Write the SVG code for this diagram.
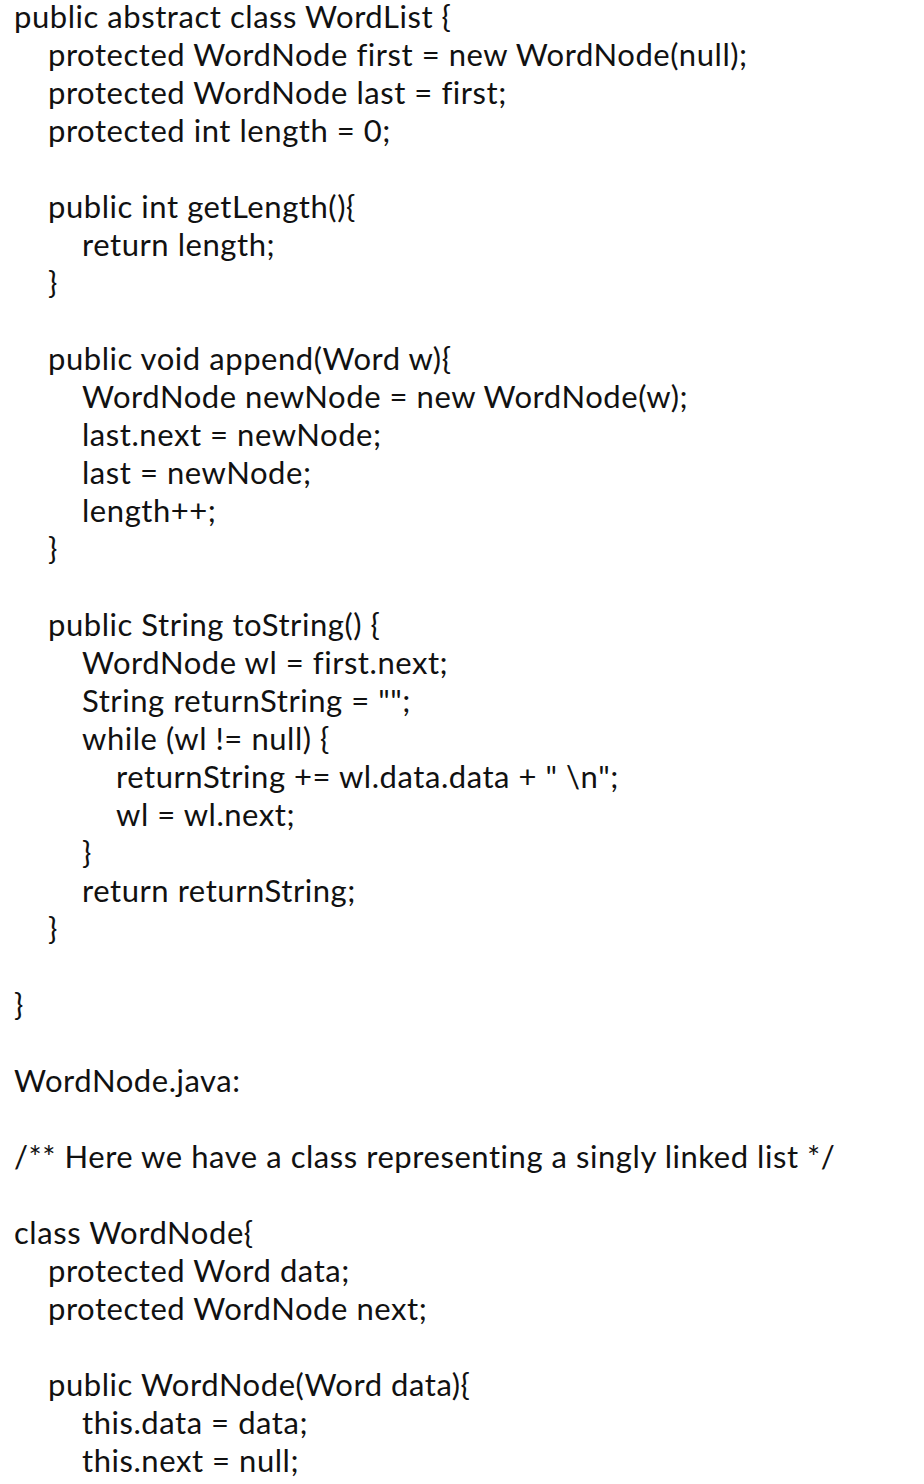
<svg xmlns="http://www.w3.org/2000/svg" width="924" height="1484" viewBox="0 0 924 1484">
<style>text{font-family:"Lato","Open Sans","Liberation Sans",sans-serif;font-size:31px;letter-spacing:0.55px;font-variant-ligatures:none;fill:#111}</style>
<rect width="924" height="1484" fill="#fff"/>
<g id="code">
<text x="14" y="28">public abstract class WordList {</text>
<text x="48" y="66">protected WordNode first = new WordNode(null);</text>
<text x="48" y="104">protected WordNode last = first;</text>
<text x="48" y="142">protected int length = 0;</text>
<text x="48" y="218">public int getLength(){</text>
<text x="82" y="256">return length;</text>
<text x="48" y="294">}</text>
<text x="48" y="370">public void append(Word w){</text>
<text x="82" y="408">WordNode newNode = new WordNode(w);</text>
<text x="82" y="446">last.next = newNode;</text>
<text x="82" y="484">last = newNode;</text>
<text x="82" y="522">length++;</text>
<text x="48" y="560">}</text>
<text x="48" y="636">public String toString() {</text>
<text x="82" y="674">WordNode wl = first.next;</text>
<text x="82" y="712">String returnString = "";</text>
<text x="82" y="750">while (wl != null) {</text>
<text x="116" y="788">returnString += wl.data.data + " \n";</text>
<text x="116" y="826">wl = wl.next;</text>
<text x="82" y="864">}</text>
<text x="82" y="902">return returnString;</text>
<text x="48" y="940">}</text>
<text x="14" y="1016">}</text>
<text x="14" y="1092">WordNode.java:</text>
<text x="14" y="1168">/** Here we have a class representing a singly linked list */</text>
<text x="14" y="1244">class WordNode{</text>
<text x="48" y="1282">protected Word data;</text>
<text x="48" y="1320">protected WordNode next;</text>
<text x="48" y="1396">public WordNode(Word data){</text>
<text x="82" y="1434">this.data = data;</text>
<text x="82" y="1472">this.next = null;</text>
</g>
</svg>
